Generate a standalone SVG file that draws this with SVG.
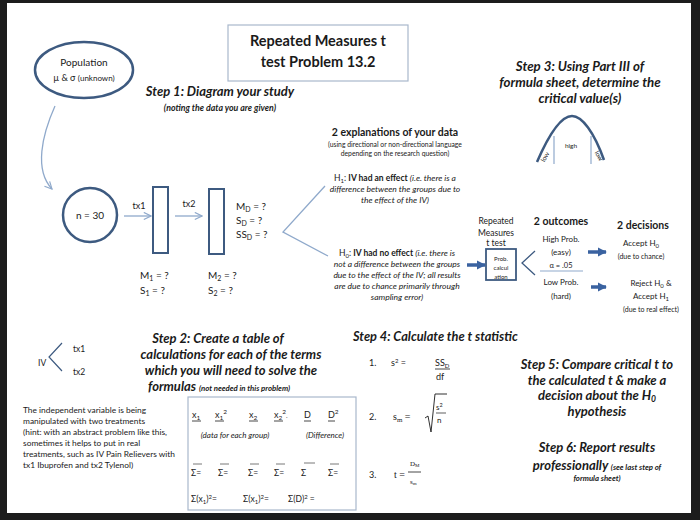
<svg xmlns="http://www.w3.org/2000/svg" width="700" height="520" viewBox="0 0 700 520">
<defs>
<style>
text{font-family:Lato,"Liberation Sans",sans-serif;fill:#1a1a1a}
.c{text-anchor:middle}
.bi{font-weight:bold;font-style:italic}
.b{font-weight:bold}
.i{font-style:italic}
.sr{font-family:"Liberation Serif",serif}
.dk{fill:none;stroke:#3d5a80;stroke-width:2.5}
.lt{fill:none;stroke:#8fa9cb;stroke-width:1.3}
.th{fill:none;stroke:#3a62a0;stroke-width:3.5}
</style>
<marker id="oa" viewBox="0 0 10 10" refX="9" refY="5" markerWidth="9" markerHeight="9" markerUnits="userSpaceOnUse" orient="auto">
<path d="M1,1 L9,5 L1,9" fill="none" stroke="#8fa9cb" stroke-width="1.3"/>
</marker>
<marker id="fa" viewBox="0 0 10 10" refX="9" refY="5" markerWidth="9" markerHeight="10" markerUnits="userSpaceOnUse" orient="auto">
<path d="M0,0 L10,5 L0,10 Z" fill="#3a62a0"/>
</marker>
</defs>
<rect x="0" y="0" width="700" height="520" fill="#1c1c1c"/>
<rect x="7" y="3" width="684" height="510" fill="#ffffff"/>

<g id="title">
<rect x="228" y="25" width="180" height="56" fill="#fff" stroke="#a9b8cc" stroke-width="1.2"/>
<text x="318" y="46" class="c b" font-size="14.5">Repeated Measures t</text>
<text x="318" y="67" class="c b" font-size="14.5">test Problem 13.2</text>
</g>

<g id="population">
<ellipse cx="84" cy="70" rx="49" ry="28" class="dk"/>
<text x="84" y="66" class="c" font-size="10">Population</text>
<text x="84" y="81" class="c" font-size="9">µ &amp; σ <tspan font-size="8">(unknown)</tspan></text>
</g>

<g id="step1">
<text x="220" y="96" class="c bi" font-size="13">Step 1: Diagram your study</text>
<text x="220" y="111" class="c bi" font-size="8.8">(noting the data you are given)</text>
</g>

<g id="sample">
<circle cx="90" cy="215" r="27" class="dk"/>
<text x="90" y="219" class="c" font-size="10">n = 30</text>
</g>

<g id="tx1box">
<rect x="153" y="187" width="15" height="66" fill="none" stroke="#3d5a80" stroke-width="2"/>
<text x="140" y="279" font-size="10">M<tspan font-size="7" dy="2">1</tspan><tspan dy="-2"> = ?</tspan></text>
<text x="140" y="294" font-size="10">S<tspan font-size="7" dy="2">1</tspan><tspan dy="-2"> = ?</tspan></text>
</g>

<g id="tx2box">
<rect x="209" y="189" width="15" height="65" fill="none" stroke="#3d5a80" stroke-width="2"/>
<text x="208" y="279" font-size="10">M<tspan font-size="7" dy="2">2</tspan><tspan dy="-2"> = ?</tspan></text>
<text x="208" y="294" font-size="10">S<tspan font-size="7" dy="2">2</tspan><tspan dy="-2"> = ?</tspan></text>
</g>

<g id="diffstats">
<text x="236" y="210" font-size="10">M<tspan font-size="7" dy="2">D</tspan><tspan dy="-2"> = ?</tspan></text>
<text x="236" y="224" font-size="10">S<tspan font-size="7" dy="2">D</tspan><tspan dy="-2"> = ?</tspan></text>
<text x="236" y="238" font-size="10">SS<tspan font-size="7" dy="2">D</tspan><tspan dy="-2"> = ?</tspan></text>
</g>

<g id="explanations">
<text x="395" y="136" class="c b" font-size="10.5">2 explanations of your data</text>
<text x="395" y="147" class="c" font-size="6.8">(using directional or non-directional language</text>
<text x="395" y="156" class="c" font-size="6.8">depending on the research question)</text>
</g>

<g id="h1">
<text x="395" y="181" class="c" font-size="8.5">H<tspan font-size="6" dy="2">1</tspan><tspan dy="-2">:  </tspan><tspan class="b">IV had an effect </tspan><tspan class="i">(i.e. there is a</tspan></text>
<text x="395" y="192" class="c i" font-size="8.5">difference between the groups due to</text>
<text x="395" y="203" class="c i" font-size="8.5">the effect of the IV)</text>
</g>

<g id="h0">
<text x="397" y="256" class="c" font-size="8.5">H<tspan font-size="6" dy="2">0</tspan><tspan dy="-2">:  </tspan><tspan class="b">IV had no effect </tspan><tspan class="i">(i.e. there is</tspan></text>
<text x="397" y="267" class="c i" font-size="8.5">not a difference between the groups</text>
<text x="397" y="278" class="c i" font-size="8.5">due to the effect of the IV; all results</text>
<text x="397" y="289" class="c i" font-size="8.5">are due to chance primarily through</text>
<text x="397" y="300" class="c i" font-size="8.5">sampling error)</text>
</g>

<g id="ttest">
<text x="496" y="224" class="c" font-size="8.5">Repeated</text>
<text x="496" y="236" class="c" font-size="8.5">Measures</text>
<text x="496" y="246" class="c" font-size="8.5">t test</text>
<rect x="486" y="249" width="30" height="31" fill="#fff" stroke="#3d5a80" stroke-width="1.8"/>
<text x="501" y="261" class="c" font-size="6">Prob.</text>
<text x="501" y="270" class="c" font-size="6">calcul</text>
<text x="501" y="279" class="c" font-size="6">ation</text>
</g>

<g id="outcomes">
<text x="561" y="225" class="c b" font-size="10.5">2 outcomes</text>
<text x="561" y="242" class="c" font-size="8">High Prob.</text>
<text x="561" y="255" class="c" font-size="8">(easy)</text>
<text x="561" y="268" class="c" font-size="7.5">α = .05</text>
<line x1="540" y1="271" x2="583" y2="271" stroke="#8fa9cb" stroke-width="1"/>
<text x="561" y="285" class="c" font-size="8">Low Prob.</text>
<text x="561" y="299" class="c" font-size="8">(hard)</text>
</g>

<g id="decisions">
<text x="643" y="229" class="c b" font-size="10.5">2 decisions</text>
<text x="641" y="246" class="c" font-size="8">Accept H<tspan font-size="6" dy="2">0</tspan></text>
<text x="641" y="259" class="c" font-size="7">(due to chance)</text>
<text x="651" y="286" class="c" font-size="8">Reject H<tspan font-size="6" dy="2">0</tspan><tspan dy="-2"> &amp;</tspan></text>
<text x="651" y="299" class="c" font-size="8">Accept H<tspan font-size="6" dy="2">1</tspan></text>
<text x="651" y="312" class="c" font-size="7">(due to real effect)</text>
</g>

<g id="step3">
<text x="580" y="71" class="c bi" font-size="13.3">Step 3: Using Part III of</text>
<text x="580" y="87" class="c bi" font-size="13.3">formula sheet, determine the</text>
<text x="580" y="103" class="c bi" font-size="13.3">critical value(s)</text>
<path d="M537,162 C550,132 562,116 572,116 C582,116 594,132 604,160" class="dk"/>
<line x1="554" y1="136" x2="554" y2="164" stroke="#8fa9cb" stroke-width="1.2"/>
<line x1="591" y1="136" x2="591" y2="164" stroke="#8fa9cb" stroke-width="1.2"/>
<text x="571" y="148" class="c" font-size="6.5">high</text>
<text x="0" y="0" class="c" font-size="6.5" transform="translate(547,158) rotate(-60)">low</text>
<text x="0" y="0" class="c" font-size="6.5" transform="translate(597,157) rotate(60)">low</text>
</g>

<g id="iv">
<text x="38" y="366" font-size="8.5">IV</text>
<path d="M62,343 L49,357 L62,371" fill="none" stroke="#3d5a80" stroke-width="1.2"/>
<text x="73" y="352" font-size="8.5">tx1</text>
<text x="73" y="375" font-size="8.5">tx2</text>
</g>

<g id="step2">
<text x="218" y="343" class="c bi" font-size="13">Step 2: Create a table of</text>
<text x="231" y="359" class="c bi" font-size="13">calculations for each of the terms</text>
<text x="231" y="375" class="c bi" font-size="13">which you will need to solve the</text>
<text x="148" y="391" class="bi" font-size="13">formulas <tspan font-size="7.8">(not needed in this problem)</tspan></text>
</g>

<g id="note">
<text x="23" y="413" font-size="8.4">The independent variable is being</text>
<text x="23" y="424" font-size="8.4">manipulated with two treatments</text>
<text x="23" y="435" font-size="8.4">(hint:  with an abstract problem like this,</text>
<text x="23" y="446" font-size="8.4">sometimes it helps to put in real</text>
<text x="23" y="457" font-size="8.4">treatments, such as IV Pain Relievers with</text>
<text x="23" y="468" font-size="8.4">tx1 Ibuprofen and tx2 Tylenol)</text>
</g>

<g id="table">
<rect x="188" y="397" width="168" height="113" fill="#fff" stroke="#a9b8cc" stroke-width="1.2"/>
<g font-size="9">
<text x="192" y="418">x<tspan font-size="6.5" dy="2">1</tspan></text>
<text x="215" y="418">x<tspan font-size="6.5" dy="2">1</tspan><tspan font-size="6.5" dy="-6">2</tspan></text>
<text x="249" y="418">x<tspan font-size="6.5" dy="2">2</tspan></text>
<text x="274" y="418">x<tspan font-size="6.5" dy="2">2</tspan><tspan font-size="6.5" dy="-6">2</tspan><tspan font-size="6.5" dy="4">.</tspan></text>
<text x="304" y="418">D</text>
<text x="328" y="418">D<tspan font-size="6.5" dy="-4">2</tspan></text>
</g>
<g stroke="#1a1a1a" stroke-width="0.8">
<line x1="192" y1="421" x2="201" y2="421"/>
<line x1="215" y1="421" x2="224" y2="421"/>
<line x1="249" y1="421" x2="258" y2="421"/>
<line x1="274" y1="421" x2="283" y2="421"/>
<line x1="304" y1="421" x2="311" y2="421"/>
<line x1="328" y1="421" x2="335" y2="421"/>
</g>
<text x="235" y="438" class="c i" font-size="8">(data for each group)</text>
<text x="325" y="438" class="c i" font-size="8">(Difference)</text>
<g font-size="8.5">
<text x="191" y="476">Σ=</text>
<text x="218" y="476">Σ=</text>
<text x="248" y="476">Σ=</text>
<text x="274" y="476">Σ=</text>
<text x="301" y="476">Σ</text>
<text x="328" y="476">Σ=</text>
</g>
<g stroke="#555" stroke-width="0.8">
<line x1="193" y1="464" x2="202" y2="464"/>
<line x1="220" y1="464" x2="229" y2="464"/>
<line x1="250" y1="464" x2="259" y2="464"/>
<line x1="276" y1="464" x2="285" y2="464"/>
<line x1="304" y1="463" x2="315" y2="463"/>
<line x1="330" y1="464" x2="339" y2="464"/>
</g>
<g font-size="8.5">
<text x="191" y="502">Σ(x<tspan font-size="6" dy="2">1</tspan><tspan dy="-2">)</tspan><tspan font-size="6" dy="-3">2</tspan><tspan dy="3">=</tspan></text>
<text x="243" y="502">Σ(x<tspan font-size="6" dy="2">1</tspan><tspan dy="-2">)</tspan><tspan font-size="6" dy="-3">2</tspan><tspan dy="3">=</tspan></text>
<text x="288" y="502">Σ(D)<tspan font-size="6" dy="-3">2</tspan><tspan dy="3"> =</tspan></text>
</g>
</g>

<g id="step4">
<text x="353" y="341" class="bi" font-size="12.8">Step 4: Calculate the t statistic</text>
<text x="369" y="366" font-size="9">1.</text>
<text x="391" y="366" font-size="9">s<tspan font-size="6" dy="-3">2</tspan><tspan dy="3">  =</tspan></text>
<text x="435" y="366" font-size="9">SS<tspan font-size="6" dy="2">D</tspan></text>
<line x1="435" y1="369" x2="450" y2="369" stroke="#1a1a1a" stroke-width="0.8"/>
<text x="436" y="380" font-size="9">df</text>
<text x="369" y="420" font-size="9">2.</text>
<text x="393" y="420" class="sr" font-size="10">s<tspan font-size="7" dy="2">m</tspan><tspan dy="-2"> =</tspan></text>
<path d="M425,418 L428,416 L431,432 L435,394 L447,394" fill="none" stroke="#1a1a1a" stroke-width="0.9"/>
<text x="436" y="410" font-size="8">s<tspan font-size="5.5" dy="-3">2</tspan></text>
<line x1="436" y1="413" x2="446" y2="413" stroke="#1a1a1a" stroke-width="0.7"/>
<text x="437" y="423" font-size="8">n</text>
<text x="369" y="478" font-size="9">3.</text>
<text x="394" y="478" class="sr" font-size="10">t =</text>
<text x="410" y="466" class="sr" font-size="7">D<tspan font-size="5" dy="1">M</tspan></text>
<line x1="408" y1="472" x2="421" y2="472" stroke="#1a1a1a" stroke-width="0.8"/>
<text x="410" y="484" class="sr" font-size="7">s<tspan font-size="5" dy="1">m</tspan></text>
</g>

<g id="step5">
<text x="597" y="369" class="c bi" font-size="13">Step 5: Compare critical t to</text>
<text x="597" y="385" class="c bi" font-size="13">the calculated t &amp; make a</text>
<text x="597" y="400" class="c bi" font-size="13">decision about the H<tspan font-size="8.5" dy="2">0</tspan></text>
<text x="597" y="416" class="c bi" font-size="13">hypothesis</text>
</g>

<g id="step6">
<text x="597" y="452" class="c bi" font-size="13">Step 6: Report results</text>
<text x="597" y="470" class="c bi" font-size="13">professionally <tspan font-size="7.8">(see last step of</tspan></text>
<text x="597" y="481" class="c bi" font-size="7.8">formula sheet)</text>
</g>

<g id="connectors">
<path d="M55,106 C42,135 34,170 52,189" class="lt" marker-end="url(#oa)"/>
<line x1="124" y1="216" x2="151" y2="216" class="lt" marker-end="url(#oa)"/>
<text x="139" y="209" class="c" font-size="9">tx1</text>
<line x1="175" y1="216" x2="202" y2="216" class="lt" marker-end="url(#oa)"/>
<text x="189" y="207" class="c" font-size="9">tx2</text>
<polyline points="325,186 283,232 328,256" class="lt"/>
<line x1="467" y1="265" x2="485" y2="265" class="th" marker-end="url(#fa)"/>
<polyline points="535,251 522,263 535,275" fill="none" stroke="#3d5a80" stroke-width="1.3"/>
<line x1="588" y1="252" x2="606" y2="252" class="th" marker-end="url(#fa)"/>
<line x1="591" y1="287" x2="606" y2="287" class="th" marker-end="url(#fa)"/>
</g>
</svg>
